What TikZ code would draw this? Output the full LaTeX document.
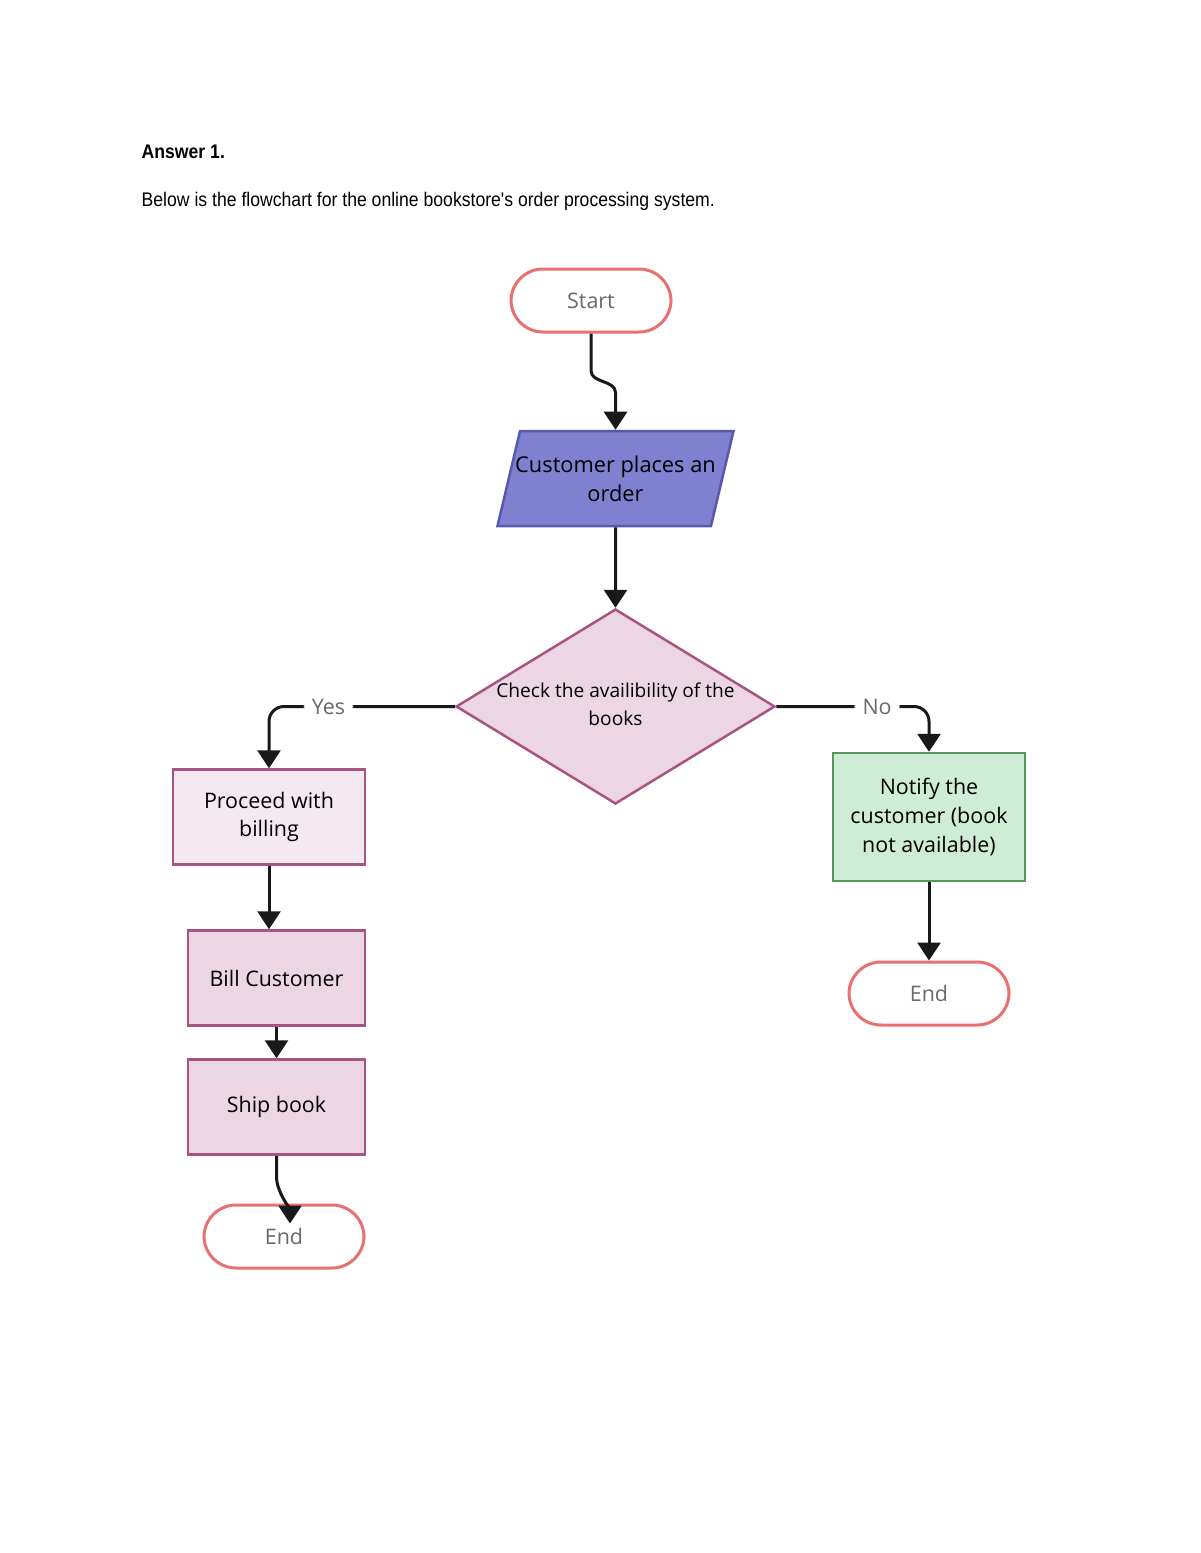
\documentclass[tikz,border=0pt]{standalone}
\usepackage{fontspec}
\setmainfont{Open Sans}
\newfontfamily\headfont[FakeStretch=0.895]{Liberation Sans}
\definecolor{termred}{RGB}{232, 112, 112}
\definecolor{termtext}{RGB}{105, 105, 105}
\definecolor{inblue}{RGB}{128, 128, 208}
\definecolor{inborder}{RGB}{88, 88, 176}
\definecolor{procpink}{RGB}{236, 214, 228}
\definecolor{procpale}{RGB}{245, 233, 241}
\definecolor{procborder}{RGB}{168, 84, 130}
\definecolor{notegreen}{RGB}{207, 236, 214}
\definecolor{noteborder}{RGB}{88, 150, 92}
\usetikzlibrary{shapes.geometric, arrows.meta, positioning, calc}

\begin{document}
\begin{tikzpicture}[
  terminal/.style={draw=termred, line width=0.3mm, fill=white, rounded corners=3.2mm, minimum width=1.6cm, minimum height=0.63cm, text=termtext, font=\fontsize{6.1}{8}\selectfont},
  process/.style={draw=procborder, line width=0.25mm, fill=procpink, minimum width=1.77cm, minimum height=0.95cm, align=center, font=\fontsize{6.1}{8.2}\selectfont},
  flow/.style={-{Triangle[width=2.3mm, length=1.8mm]}, line width=0.3mm, black!90},
  branch/.style={fill=white, inner xsep=2.3pt, inner ysep=1pt, text=termtext, font=\fontsize{6.1}{8}\selectfont}
]
  \useasboundingbox (0,0) rectangle (12,-15.53);

  % Heading
  \node[anchor=base west, inner sep=0pt, font=\headfont\bfseries\fontsize{5.6}{7}\selectfont] (title) at (1.41,-1.585) {Answer 1.};
  \node[anchor=base west, inner sep=0pt, font=\headfont\fontsize{5.6}{7}\selectfont] (intro) at (1.41,-2.065) {Below is the flowchart for the online bookstore's order processing system.};

  % Main column
  \node[terminal] (start) at (5.91,-3.005) {Start};
  \node[trapezium, trapezium left angle=72, trapezium right angle=108, trapezium stretches body, draw=inborder, fill=inblue, line width=0.25mm, minimum width=2.36cm, minimum height=0.95cm, inner xsep=-2.5pt, align=center, font=\fontsize{6.2}{8.3}\selectfont] (order) at (6.155,-4.785) {Customer places an\\order};
  \node[diamond, draw=procborder, line width=0.25mm, fill=procpink, minimum width=3.19cm, minimum height=1.95cm, inner sep=0pt] (check) at (6.155,-7.065) {};
  \node[align=center, font=\fontsize{5.45}{8}\selectfont] (checktext) at ([yshift=0.02cm]check) {Check the availibility of the\\books};

  % Yes branch
  \node[process, fill=procpale, minimum width=1.92cm] (billing) at (2.69,-8.17) {Proceed with\\billing};
  \node[process] (bill) at (2.765,-9.78) {Bill Customer};
  \node[process] (ship) at (2.765,-11.07) {Ship book};
  \node[terminal] (endyes) at (2.84,-12.365) {End};

  % No branch
  \node[process, fill=notegreen, draw=noteborder, minimum width=1.92cm, minimum height=1.28cm] (notify) at (9.29,-8.17) {Notify the\\customer (book\\not available)};
  \node[terminal] (endno) at (9.29,-9.935) {End};

  % Connectors
  \draw[flow] (start.south) -- ++(0,-0.37) to[out=-90, in=90] ($(order.north)+(0,0.37)$) -- (order.north);
  \draw[flow] (order.south) -- (check.north);
  \draw[flow, rounded corners=0.15cm] (check.west) -| (billing.north) node[branch, pos=0.34] (yes) {Yes};
  \draw[flow, rounded corners=0.15cm] (check.east) -| (notify.north) node[branch, pos=0.33] (no) {No};
  \draw[flow] (billing.south) -- (billing.south |- bill.north);
  \draw[flow] (bill.south) -- (ship.north);
  \draw[flow] (ship.south) -- ++(0,-0.22) .. controls +(0,-0.12) and +(0,0.12) .. ($(endyes.north)+(0.06,-0.2)$);
  \draw[flow] (notify.south) -- (endno.north);
\end{tikzpicture}
\end{document}
